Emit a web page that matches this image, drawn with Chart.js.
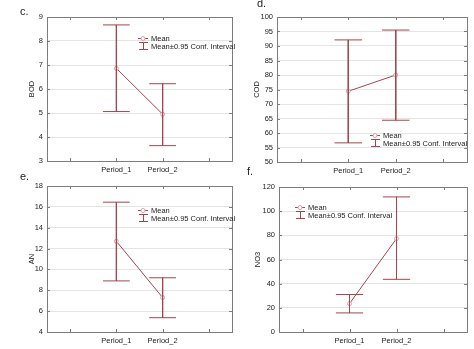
<!DOCTYPE html>
<html lang="en">
<head>
    <meta charset="UTF-8">
    <script src="https://cdn.jsdelivr.net/npm/chart.js"></script>
    <title>Mean and CI</title>
    <style>
        body { margin: 0; background: #fff; font-family: "Liberation Sans", Arial, sans-serif; }
        .wrap { position: relative; width: 474px; height: 349px; overflow: hidden; }
        .panel { position: absolute; }
        .tag { position: absolute; font-size: 11px; color: #222; }
    </style>
</head>
<body>
<div class="wrap">
    <div class="panel" style="left:0;top:0;width:237px;height:175px"><canvas id="chartC"></canvas></div>
    <div class="panel" style="left:237px;top:0;width:237px;height:175px"><canvas id="chartD"></canvas></div>
    <div class="panel" style="left:0;top:170px;width:237px;height:179px"><canvas id="chartE"></canvas></div>
    <div class="panel" style="left:237px;top:170px;width:237px;height:179px"><canvas id="chartF"></canvas></div>
    <span class="tag" style="left:20px;top:5px">c.</span>
    <span class="tag" style="left:257px;top:-3px">d.</span>
    <span class="tag" style="left:20px;top:170px">e.</span>
    <span class="tag" style="left:247px;top:165px">f.</span>
</div>
<script>
    // data
    const periods = ['Period_1', 'Period_2'];
    const periodPos = [2, 3];
    const xTickPos = [1, 2, 3, 4];

    const bodMean = [6.86, 4.95];
    const bodLow = [5.06, 3.64];
    const bodHigh = [8.67, 6.22];

    const codMean = [74.4, 80.0];
    const codLow = [56.6, 64.4];
    const codHigh = [92.1, 95.5];

    const anMean = [12.7, 7.3];
    const anLow = [8.9, 5.37];
    const anHigh = [16.45, 9.2];

    const no3Mean = [23.5, 77.3];
    const no3Low = [15.8, 43.6];
    const no3High = [31.0, 111.8];

    const red = '#a3454f';
    const capHalf = 0.29;
    const fontFam = '"Liberation Sans Narrow", "Liberation Sans", Arial';

    // box, inward ticks and legend
    const frame = {
        id: 'frame',
        afterDraw(chart, args, opts) {
            const c = chart.ctx, a = chart.chartArea;
            const xs = chart.scales.x, ys = chart.scales.y;
            c.save();
            c.strokeStyle = '#7d7d7d';
            c.lineWidth = 1;
            c.strokeRect(Math.round(a.left) + 0.5, Math.round(a.top) + 0.5, Math.round(a.right - a.left), Math.round(a.bottom - a.top));
            c.beginPath();
            ys.ticks.forEach(t => {
                const py = Math.round(ys.getPixelForValue(t.value)) + 0.5;
                c.moveTo(a.left, py); c.lineTo(a.left + 3, py);
                c.moveTo(a.right, py); c.lineTo(a.right - 3, py);
            });
            xTickPos.forEach(v => {
                const px = Math.round(xs.getPixelForValue(v)) + 0.5;
                c.moveTo(px, a.bottom); c.lineTo(px, a.bottom - 3);
                c.moveTo(px, a.top); c.lineTo(px, a.top + 3);
            });
            c.stroke();

            // legend
            const lx = opts.x, ly = opts.y;
            c.strokeStyle = red;
            c.beginPath();
            c.moveTo(lx, ly + 0.5); c.lineTo(lx + 10, ly + 0.5);
            c.stroke();
            c.beginPath();
            c.arc(lx + 5, ly + 0.5, 2, 0, Math.PI * 2);
            c.fillStyle = '#fff';
            c.fill();
            c.strokeStyle = '#d8a0a6';
            c.stroke();
            c.strokeStyle = red;
            c.beginPath();
            c.moveTo(lx + 5.5, ly + 4); c.lineTo(lx + 5.5, ly + 11);
            c.moveTo(lx + 1, ly + 4.5); c.lineTo(lx + 10, ly + 4.5);
            c.moveTo(lx + 1, ly + 11.5); c.lineTo(lx + 10, ly + 11.5);
            c.stroke();
            c.fillStyle = '#222';
            c.font = '7.5px ' + fontFam;
            c.textBaseline = 'middle';
            c.fillText('Mean', lx + 13, ly + 0.5);
            c.fillText('Mean\u00b10.95 Conf. Interval', lx + 13, ly + 8.5);
            c.restore();
        }
    };

    function whiskers(mean, low, high) {
        const pts = [];
        periodPos.forEach((x, i) => {
            pts.push({x: x - capHalf, y: high[i]}, {x: x + capHalf, y: high[i]}, {x: x, y: null});
            pts.push({x: x, y: high[i]}, {x: x, y: low[i]}, {x: x, y: null});
            pts.push({x: x - capHalf, y: low[i]}, {x: x + capHalf, y: low[i]}, {x: x, y: null});
        });
        return pts;
    }

    function makeChart(id, yTitle, mean, low, high, yMin, yMax, step, box, legend) {
        return new Chart(document.getElementById(id), {
            type: 'scatter',
            data: {
                datasets: [{
                    data: whiskers(mean, low, high),
                    showLine: true,
                    spanGaps: false,
                    borderColor: red,
                    borderWidth: 1,
                    pointRadius: 0
                }, {
                    data: periodPos.map((x, i) => ({x: x, y: mean[i]})),
                    showLine: true,
                    borderColor: red,
                    borderWidth: 1,
                    pointRadius: 2,
                    pointBorderWidth: 1,
                    pointBackgroundColor: '#fff',
                    pointBorderColor: '#d8a0a6'
                }]
            },
            options: {
                responsive: true,
                maintainAspectRatio: false,
                animation: false,
                layout: { padding: { left: 0, right: box.right, top: box.top, bottom: 0 } },
                plugins: {
                    legend: { display: false },
                    tooltip: { enabled: false },
                    frame: legend
                },
                scales: {
                    x: {
                        type: 'linear',
                        min: 0.5,
                        max: 4.5,
                        afterFit: s => { s.height = box.xh; },
                        afterBuildTicks: s => { s.ticks = xTickPos.map(v => ({ value: v })); },
                        grid: { display: false, drawTicks: false },
                        border: { display: false },
                        ticks: {
                            autoSkip: false,
                            maxRotation: 0,
                            padding: 4,
                            color: '#222',
                            font: { size: 7.5, family: fontFam },
                            callback: v => {
                                const i = periodPos.indexOf(v);
                                return i >= 0 ? periods[i] : '';
                            }
                        }
                    },
                    y: {
                        min: yMin,
                        max: yMax,
                        afterFit: s => { s.width = box.yw; },
                        grid: { color: '#e4e4e4', drawTicks: false },
                        border: { display: false },
                        title: {
                            display: true,
                            text: yTitle,
                            color: '#222',
                            padding: { top: box.tp, bottom: 0 },
                            font: { size: 7.5, family: fontFam }
                        },
                        ticks: {
                            stepSize: step,
                            padding: 4,
                            color: '#222',
                            font: { size: 7.5, family: fontFam }
                        }
                    }
                }
            },
            plugins: [frame]
        });
    }

    makeChart('chartC', 'BOD', bodMean, bodLow, bodHigh, 3, 9, 1,
        { yw: 47, right: 4, top: 17, xh: 14, tp: 27 }, { x: 138, y: 38 });
    makeChart('chartD', 'COD', codMean, codLow, codHigh, 50, 100, 5,
        { yw: 40, right: 7, top: 17, xh: 13, tp: 15 }, { x: 133, y: 135 });
    makeChart('chartE', 'AN', anMean, anLow, anHigh, 4, 18, 2,
        { yw: 47, right: 4, top: 16, xh: 17, tp: 27 }, { x: 138, y: 40 });
    makeChart('chartF', 'NO3', no3Mean, no3Low, no3High, 0, 120, 20,
        { yw: 42, right: 7, top: 17, xh: 17, tp: 16 }, { x: 58, y: 37 });
</script>
</body>
</html>
